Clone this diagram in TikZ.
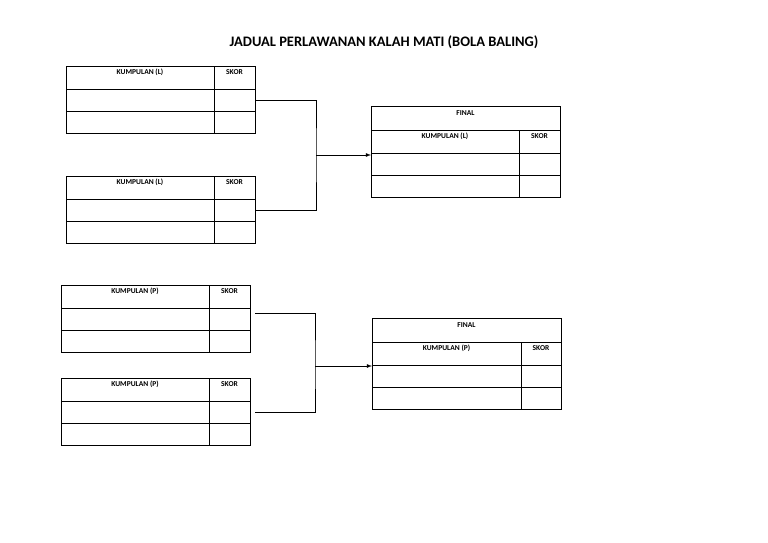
\documentclass[tikz,border=0pt]{standalone}
\usepackage{fontspec}
\setmainfont{Carlito}
\usetikzlibrary{calc}
\begin{document}
\begin{tikzpicture}[x=1pt,y=-1pt,
  cell/.style={draw,line width=0.8pt,inner sep=0pt,anchor=north west},
  lbl/.style={font=\bfseries\fontsize{7.5}{8}\selectfont},
  wire/.style={line width=0.8pt},
  arr/.style={wire,-latex}]
\useasboundingbox (0,0) rectangle (768,543);
\node[font=\bfseries\fontsize{14.5}{16}\selectfont] (title) at (384,42) {JADUAL PERLAWANAN KALAH MATI (BOLA BALING)};
\newcommand{\grp}[6]{%
  \node[cell,minimum width={#4-#2},minimum height=23] (#1h) at (#2,#3) {};
  \node[lbl] (#1hl) at ($(#2,#3)!0.5!(#4,#3)+(0,6.5)$) {#6};
  \node[cell,minimum width={#5-#4},minimum height=23] (#1s) at (#4,#3) {};
  \node[lbl] (#1sl) at ($(#4,#3)!0.5!(#5,#3)+(0,6.5)$) {SKOR};
  \node[cell,minimum width={#4-#2},minimum height=22] (#1a) at (#2,#3+23) {};
  \node[cell,minimum width={#5-#4},minimum height=22] (#1as) at (#4,#3+23) {};
  \node[cell,minimum width={#4-#2},minimum height=22] (#1b) at (#2,#3+45) {};
  \node[cell,minimum width={#5-#4},minimum height=22] (#1bs) at (#4,#3+45) {};
}
\grp{t1}{66}{66}{214}{255}{KUMPULAN (L)}
\grp{t2}{66}{176}{214}{255}{KUMPULAN (L)}
\grp{t3}{61}{285}{209}{250}{KUMPULAN (P)}
\grp{t4}{61}{378}{209}{250}{KUMPULAN (P)}
\node[cell,minimum width=189,minimum height=24] (f1t) at (371,106) {};
\node[lbl] (f1tl) at (465.5,113) {FINAL};
\grp{f1}{371}{130}{519}{560}{KUMPULAN (L)}
\node[cell,minimum width=189,minimum height=24] (f2t) at (372,318) {};
\node[lbl] (f2tl) at (466.5,325) {FINAL};
\grp{f2}{372}{342}{521}{561}{KUMPULAN (P)}
\coordinate (j1) at (316,155);
\coordinate (j2) at (315,366);
\coordinate (k1) at (371,155);
\coordinate (k2) at (372,366);
\coordinate (e3) at (255,313);
\coordinate (e4) at (255,412);
\draw[wire] (t1as.east) -| (j1) |- (t2as.east);
\draw[arr] (j1) -- (k1);
\draw[wire] (e3) -| (j2) |- (e4);
\draw[arr] (j2) -- (k2);
\end{tikzpicture}
\end{document}
